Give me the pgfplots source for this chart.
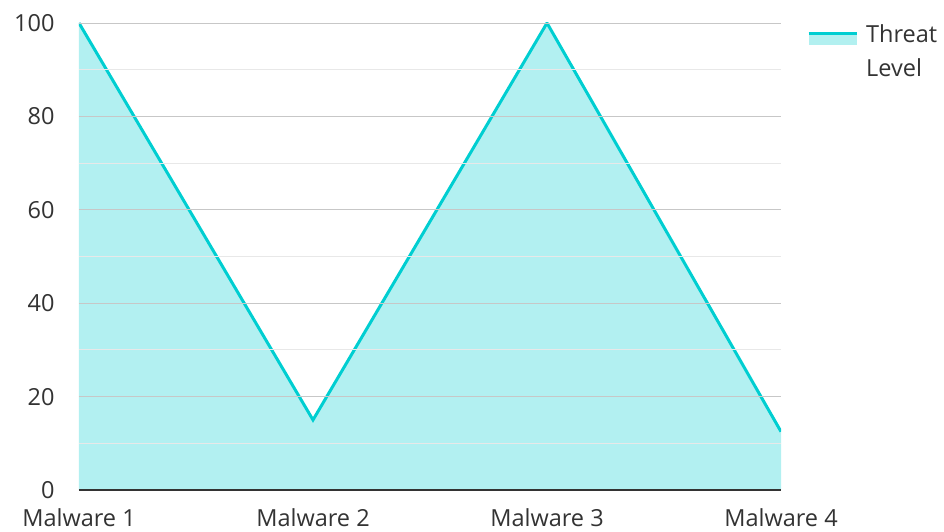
\documentclass[border=0pt]{standalone}
\usepackage{fontspec}
\setmainfont{Open Sans}
\usepackage{pgfplots}
\pgfplotsset{compat=1.18}
\definecolor{teal1}{RGB}{0,206,209}
\definecolor{tealfill}{RGB}{178,240,240}
\definecolor{txt}{RGB}{51,51,51}
\begin{document}
\begin{tikzpicture}
\begin{axis}[
  name=ax, at={(0,0)}, anchor=origin,
  scale only axis, width=702pt, height=467pt,
  xmin=0, xmax=3, ymin=0, ymax=100,
  xtick={0,1,2,3},
  xticklabels={Malware 1, Malware 2, Malware 3, Malware 4},
  ytick={0,20,40,60,80,100},
  minor y tick num=1,
  ymajorgrids, yminorgrids,
  major grid style={draw=black!22, line width=0.9pt},
  minor grid style={draw=black!9, line width=0.9pt},
  axis x line=bottom, axis y line=left,
  axis line style={-},
  x axis line style={draw=black!80, line width=1.8pt},
  y axis line style={draw=none},
  axis on top,
  major tick length=0pt, minor tick length=0pt,
  tick label style={font=\fontsize{23.5}{28}\selectfont, text=txt},
  /pgf/number format/assume math mode=true,
  xticklabel style={yshift=-15pt},
  yticklabel style={xshift=-21pt},
  legend style={at={(1.037,1.002)}, anchor=north west, draw=none, fill=none,
    font=\fontsize{23.5}{34}\selectfont, text=txt,
    cells={align=left, anchor=north west}, inner sep=0pt,
    column sep=6pt},
  legend image code/.code={
    \fill[fill=tealfill, draw=none] (0pt,-23pt) rectangle (48pt,-11pt);
    \draw[draw=teal1, line width=3pt] (0pt,-11pt) -- (48pt,-11pt);
  },
]
\addplot[draw=none, fill=teal1, fill opacity=0.3, forget plot]
  coordinates {(0,100) (1,15) (2,100) (3,12.5)} \closedcycle;
\addplot[teal1, line width=3pt]
  coordinates {(0,100) (1,15) (2,100) (3,12.5)};
\addlegendentry{Threat\\Level}
\end{axis}
\pgfresetboundingbox
\path (-79pt,-41pt) rectangle (865pt,490pt);
\end{tikzpicture}
\end{document}
